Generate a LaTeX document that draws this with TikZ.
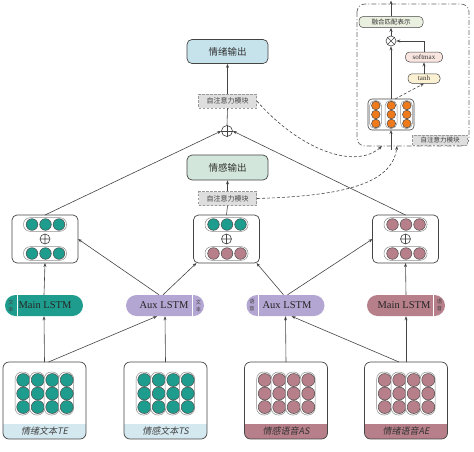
\documentclass[tikz,border=0pt]{standalone}
\usepackage{fontspec}
\setmainfont{Liberation Serif}
\newfontfamily\cjk{Noto Sans CJK SC}
\newfontfamily\cjkit[FakeSlant=0.2]{Noto Sans CJK SC}
\usetikzlibrary{shapes.misc,arrows.meta}
\definecolor{linec}{HTML}{444444}
\definecolor{tealc}{HTML}{1E9C8D}
\definecolor{lavc}{HTML}{B4A6D2}
\definecolor{mauvc}{HTML}{B67F89}
\definecolor{orgc}{HTML}{EE7A1C}
\definecolor{outblue}{HTML}{C6E3EC}
\definecolor{outgreen}{HTML}{D3E6DB}
\definecolor{attf}{HTML}{DEDEDE}
\definecolor{fusef}{HTML}{E9F0DF}
\definecolor{softf}{HTML}{F8E5DF}
\definecolor{tanhf}{HTML}{FCF0D2}
\definecolor{bandblue}{HTML}{D4E8F0}
\tikzset{
  line/.style={draw=linec, line width=0.6pt},
  arr/.style={line, -{Stealth[length=4pt,width=3pt]}},
  darr/.style={draw=linec, line width=0.6pt, dash pattern=on 3pt off 2pt, -{Stealth[length=4pt,width=3pt]}},
  outbox/.style={draw=linec, rounded corners=5pt, line width=0.7pt, minimum width=81pt, minimum height=24pt, font=\cjk\fontsize{9.5}{10}\selectfont, text=black!80},
  attbox/.style={draw=gray!80, dash pattern=on 2.5pt off 1.5pt, fill=attf, minimum width=58pt, minimum height=14pt, inner sep=1pt, line width=0.6pt, font=\cjk\fontsize{7}{8}\selectfont, text=black!75},
  smallbox/.style={draw=linec, rounded corners=4pt, line width=0.5pt, inner sep=1pt, text=black!80},
  lstm/.style={rounded rectangle, minimum width=78pt, minimum height=21pt, inner sep=0pt},
  lstmtext/.style={font=\fontsize{10.5}{11}\selectfont, text=black!85, inner sep=0pt},
  side/.style={font=\cjk\fontsize{5.2}{7}\selectfont, align=center, inner sep=0pt, text=black!75},
  fbox/.style={draw=linec, rounded corners=5pt, fill=white, minimum width=66pt, minimum height=48pt, line width=0.7pt, outer sep=0pt},
  febox/.style={fill=white, minimum width=83pt, minimum height=77pt, outer sep=0pt, inner sep=0pt},
  capsule/.style={draw=black!45, fill=white, line width=0.5pt},
  cell/.style={draw=black!70, line width=0.5pt}
}
\newcommand\featbox[6]{%
  \node[febox] (#1) at (#2,400.5) {};
  \begin{scope}
    \clip[rounded corners=6pt] (#1.south west) rectangle (#1.north east);
    \fill[#3] (#1.south west) rectangle ([yshift=15pt]#1.south east);
  \end{scope}
  \draw[linec, line width=0.7pt, rounded corners=6pt] (#1.south west) rectangle (#1.north east);
  \node[font=\cjkit\fontsize{9}{10}\selectfont, text=#6, inner sep=0pt] (#1lab) at ([yshift=7.5pt]#1.south) {#4};
  \begin{scope}[shift={(#1.center)}]
    \foreach \dx in {-21.75,-7.25,7.25,21.75}{
      \draw[capsule, rounded corners=7pt] (\dx-7.6,-28.5) rectangle (\dx+7.4,14.5);
      \foreach \dy in {-20.5,-7,6.5}
        \draw[cell, fill=#5] (\dx+0.5,\dy) circle[radius=6.5pt];
    }
  \end{scope}
}
\newcommand\fusebox[4]{%
  \node[fbox] (#1) at (#2,239) {};
  \begin{scope}[shift={(#1.center)}]
    \foreach \yy/\cc in {-14.5/#3, 14.5/#4}{
      \draw[capsule, rounded corners=6.5pt] (-21.5,\yy-6.8) rectangle (21.5,\yy+6.8);
      \foreach \dx in {-13.5,0,13.5}
        \draw[cell, fill=\cc] (\dx+0.5,\yy) circle[radius=5.8pt];
    }
    \draw[linec, line width=0.6pt] (0,0) circle[radius=5pt] (-5,0)--(5,0) (0,-5)--(0,5);
  \end{scope}
}
\begin{document}
\begin{tikzpicture}[x=1pt,y=-1pt]
\useasboundingbox (0,0) rectangle (474,451);

% ---------- inset (self-attention module detail) ----------
\draw[draw=black!60, line width=0.7pt, rounded corners=8pt, dash pattern=on 5pt off 2pt on 1pt off 2pt] (357,4) rectangle (469,146);
\node[smallbox, fill=fusef, minimum width=64pt, minimum height=11pt, font=\cjk\fontsize{6.5}{7}\selectfont] (fuse) at (391,22) {融合匹配表示};
\coordinate (outtop) at (391,0.5);
\draw[arr] (fuse.north) -- (outtop);
\node[draw=linec, circle, minimum size=10pt, inner sep=0pt, line width=0.6pt] (prod) at (391,41) {};
\draw[linec, line width=0.6pt] (prod.north east) -- (prod.south west) (prod.north west) -- (prod.south east);
\draw[arr] (prod.north) -- (fuse.south);
\node[smallbox, fill=softf, minimum width=37pt, minimum height=10pt, font=\fontsize{7}{8}\selectfont] (soft) at (424,57) {softmax};
\node[smallbox, fill=tanhf, minimum width=32pt, minimum height=9.5pt, font=\fontsize{7}{8}\selectfont] (tanh) at (424,78.5) {tanh};
\draw[arr] (tanh.north) -- (soft.south);
\draw[arr] (soft.north) |- (prod.east);
\node[draw=linec, rounded corners=4pt, minimum width=46pt, minimum height=31pt, line width=0.6pt, outer sep=0pt] (ob) at (391,114.5) {};
\begin{scope}[shift={(ob.center)}]
  \foreach \dx in {-15.5,0,15.5}{
    \draw[capsule, rounded corners=5.5pt] (\dx-6,-14) rectangle (\dx+6,14);
    \foreach \dy in {-9,0,9}
      \draw[cell, fill=orgc] (\dx+0.3,\dy) circle[radius=4.3pt];
  }
\end{scope}
\draw[arr] (ob.north) -- (prod.south);
\draw[darr] ([xshift=4pt]ob.north) -- (tanh.south);
\coordinate (inb) at (391,150);
\draw[arr] (inb) -- (ob.south);
\node[attbox, minimum width=55pt, minimum height=10pt, font=\cjk\fontsize{6.5}{7}\selectfont] (att3) at (440,140) {自注意力模块};

% ---------- outputs ----------
\node[outbox, fill=outblue] (emo) at (227.5,51.5) {情绪输出};
\node[attbox] (att1) at (227.5,101) {自注意力模块};
\node[draw=linec, circle, minimum size=11pt, inner sep=0pt, line width=0.6pt, fill=white] (sum) at (227,131) {};
\draw[linec, line width=0.6pt] (sum.north) -- (sum.south) (sum.east) -- (sum.west);
\node[outbox, fill=outgreen, minimum height=25pt] (sen) at (227.5,167.5) {情感输出};
\node[attbox] (att2) at (227.5,198.5) {自注意力模块};

% ---------- fusion boxes ----------
\fusebox{fl}{45}{tealc}{tealc}
\fusebox{fm}{226.5}{tealc}{mauvc}
\fusebox{fr}{405.5}{mauvc}{mauvc}

\draw[line] (sum.north) -- (att1.south);
\draw[arr] (att1.north) -- (emo.south);
\draw[line] (fm.north) -- (att2.south);
\draw[arr] (att2.north) -- (sen.south);
\draw[arr] (fl.north) -- (sum.west);
\draw[arr] (fr.north) -- (sum.east);

% dashed links to the inset
\coordinate (d1) at (382,146);
\coordinate (d2) at (397,146);
\draw[darr] (att1.east) .. controls (300,150) and (355,170) .. (d1);
\draw[darr] (att2.east) .. controls (340,196) and (392,185) .. (d2);

% ---------- LSTMs ----------
\node[lstm, fill=tealc] (m1) at (44,305.5) {};
\node[lstmtext] (m1t) at (45,305.5) {Main LSTM};
\draw[white, line width=0.8pt] (17,295) -- (17,316);
\node[side] (s1) at (11,305.5) {文\\本};

\node[lstm, fill=lavc] (a1) at (165,305.5) {};
\node[lstmtext] (a1t) at (164,305.5) {Aux LSTM};
\draw[white, line width=0.8pt] (192,295) -- (192,316);
\node[side] (s2) at (198.5,305.5) {文\\本};

\node[lstm, fill=lavc] (a2) at (285.5,305.5) {};
\node[lstmtext] (a2t) at (287,305.5) {Aux LSTM};
\draw[white, line width=0.8pt] (258,295) -- (258,316);
\node[side] (s3) at (252,305.5) {语\\音};

\node[lstm, fill=mauvc] (m2) at (406,305.5) {};
\node[lstmtext] (m2t) at (404,305.5) {Main LSTM};
\draw[white, line width=0.8pt] (433,295) -- (433,316);
\node[side] (s4) at (439.5,305.5) {语\\音};

\draw[arr] (m1.north) -- (fl.south);
\draw[arr] ([xshift=-6pt]a1.north) -- (fl.east);
\draw[arr] ([xshift=-2pt]a1.north) -- ([xshift=3pt]fm.south west);
\draw[arr] ([xshift=-2pt]a2.north) -- ([xshift=-3pt]fm.south east);
\draw[arr] ([xshift=2pt]a2.north) -- (fr.west);
\draw[arr] (m2.north) -- (fr.south);

% ---------- feature boxes ----------
\featbox{te}{44.5}{bandblue}{情绪文本TE}{tealc}{black!75}
\featbox{ts}{165.5}{bandblue}{情感文本TS}{tealc}{black!75}
\featbox{as}{286}{mauvc}{情感语音AS}{mauvc}{black!80}
\featbox{ae}{406}{mauvc}{情绪语音AE}{mauvc}{black!80}

\draw[arr] (te.north) -- (m1.south);
\draw[arr] ([xshift=4pt]te.north) -- ([xshift=-8pt]a1.south);
\draw[arr] (ts.north) -- (a1.south);
\draw[arr] (as.north) -- (a2.south);
\draw[arr] ([xshift=-7pt]ae.north) -- ([xshift=6pt]a2.south);
\draw[arr] (ae.north) -- (m2.south);
\end{tikzpicture}
\end{document}
